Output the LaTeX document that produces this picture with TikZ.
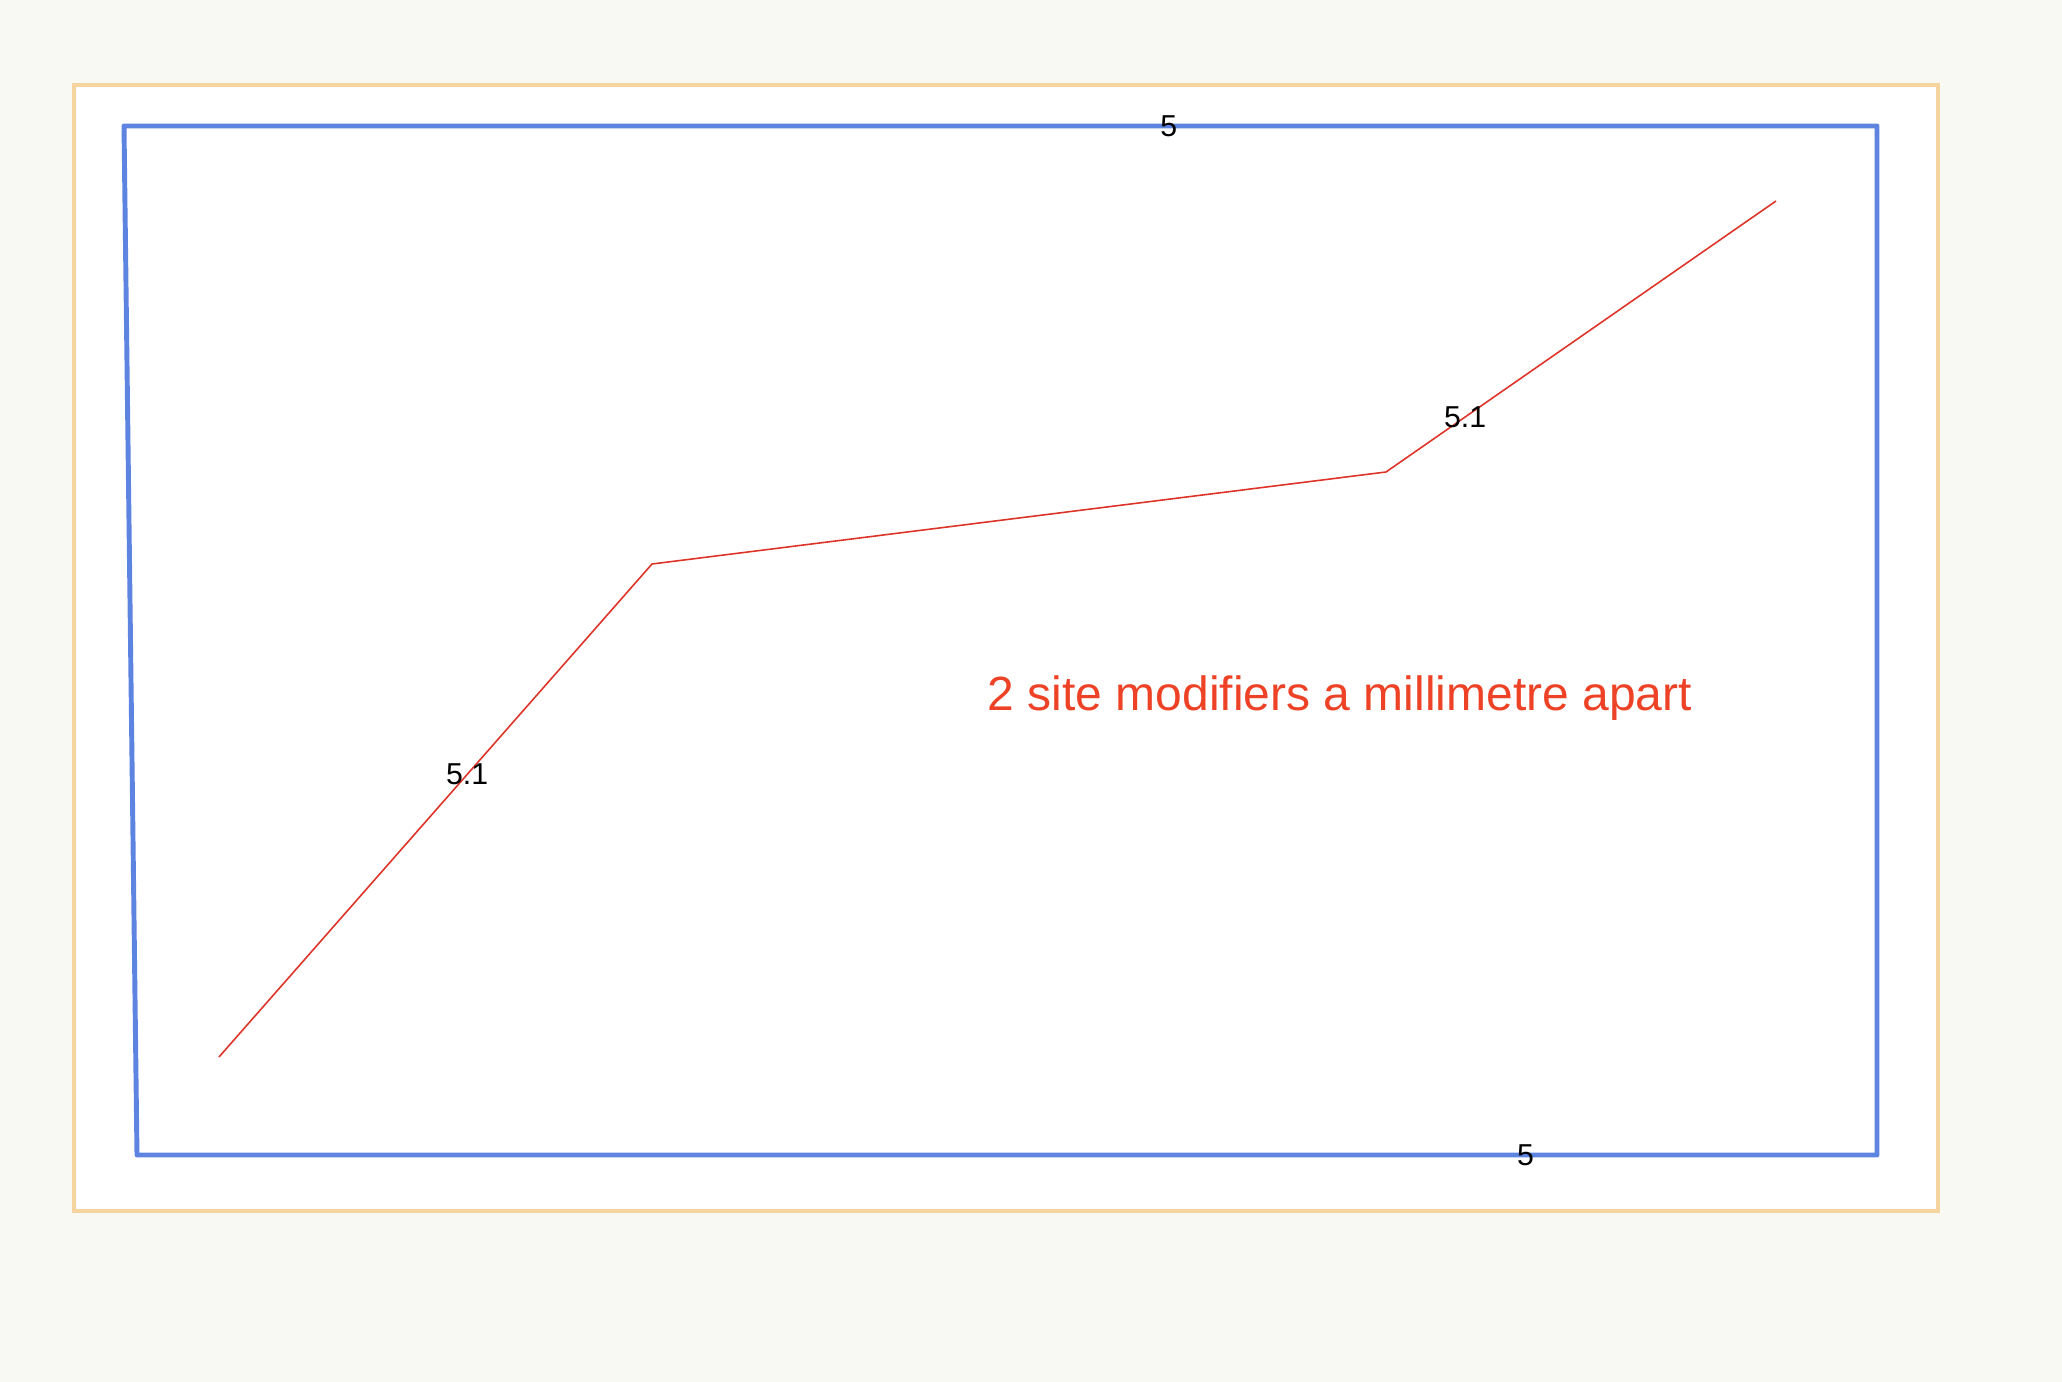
\documentclass[tikz,border=0pt]{standalone}
\usepackage{fontspec}
\setmainfont{Liberation Sans}
\usepackage{tikz}

\definecolor{paper}{RGB}{249,249,244}
\definecolor{frameorange}{RGB}{246,212,160}
\definecolor{siteblue}{RGB}{94,132,226}
\definecolor{modred}{RGB}{222,52,40}
\definecolor{notered}{RGB}{238,66,38}

\tikzset{
    sheet/.style={draw=frameorange, line width=1.4pt, fill=white},
    site/.style={draw=siteblue, line width=1.4pt, line join=round},
    modifier/.style={draw=modred, line width=0.45pt},
    dimlabel/.style={inner sep=0pt, font=\fontsize{8.6}{10}\selectfont},
}

\begin{document}
\begin{tikzpicture}[x=0.01cm, y=-0.01cm]
    \fill[paper] (0, 0) rectangle (2062, 1382);
    \useasboundingbox (0, 0) rectangle (2062, 1382);
    \draw[sheet] (74, 85) rectangle (1938, 1211);

    % site boundary
    \coordinate (s1) at (124, 126);
    \coordinate (s2) at (1877, 126);
    \coordinate (s3) at (1877, 1155);
    \coordinate (s4) at (137, 1155);
    \draw[site] (s1) -- (s2) node[dimlabel, pos=0.596] (top) {5}
        -- (s3) -- (s4) node[dimlabel, pos=0.202] (bottom) {5} -- cycle;

    % modifier line
    \coordinate (m1) at (219, 1057);
    \coordinate (m2) at (652, 564);
    \coordinate (m3) at (1386, 472);
    \coordinate (m4) at (1776, 201);
    \draw[modifier] (m1) -- (m2) node[dimlabel, pos=0.573] (low) {5.1}
        -- (m3) -- (m4) node[dimlabel, pos=0.203] (high) {5.1};

    \node[anchor=base west, inner sep=0pt, text=notered,
        font=\fontsize{13.65}{16}\selectfont] (note) at (987, 710)
        {2 site modifiers a millimetre apart};
\end{tikzpicture}
\end{document}
